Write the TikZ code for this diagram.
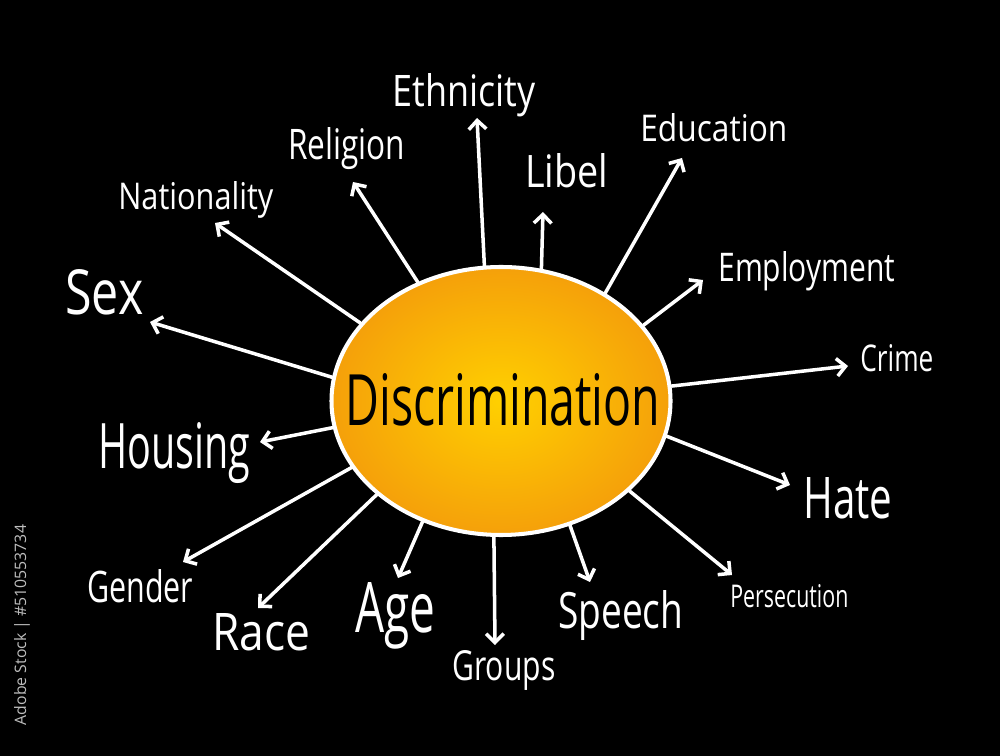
\documentclass[tikz,border=0pt]{standalone}
\usepackage{fontspec}
\setmainfont{Open Sans}
\usetikzlibrary{arrows.meta,shapes.geometric}
\newlength\px
\setlength\px{0.02cm}
% word squeezed to the width and height it has in the picture
\newcommand{\hand}[3]{\resizebox{#1\px}{#2\px}{#3}}
\definecolor{sunin}{RGB}{255,208,0}
\definecolor{sunout}{RGB}{245,160,10}
\definecolor{credit}{RGB}{190,190,190}
\tikzset{
  word/.style={white,anchor=base west,inner sep=0pt},
  arr/.style={white,line width=2pt,line cap=round,-{Straight Barb[length=5pt,width=10pt,line width=2pt]}},
}
\begin{document}
\begin{tikzpicture}[x=0.02cm,y=-0.02cm]
    \fill[black] (0,0) rectangle (1000,756);%background
    \node[ellipse,draw=white,line width=2.3pt,shading=radial,inner color=sunin,outer color=sunout,
        minimum width=339\px,minimum height=268\px,inner sep=0pt] (disc) at (501,401) {};
    \node[anchor=base west,inner sep=0pt] (title) at (345,425) {\hand{315}{52}{Discrimination}};
    % labels round the middle
    \node[word] (eth) at (392,107) {\hand{143}{33}{Ethnicity}};
    \node[word] (rel) at (288,160) {\hand{117}{32}{Religion}};
    \node[word] (nat) at (118,210) {\hand{155}{28}{Nationality}};
    \node[word] (sex) at (65,315) {\hand{78}{45}{Sex}};
    \node[word] (hou) at (98,468) {\hand{152}{46}{Housing}};
    \node[word] (gen) at (87,602) {\hand{106}{33}{Gender}};
    \node[word] (rac) at (212,650) {\hand{98}{37}{Race}};
    \node[word] (age) at (355,632) {\hand{80}{50}{Age}};
    \node[word] (gro) at (452,680) {\hand{103}{30}{Groups}};
    \node[word] (spe) at (558,628) {\hand{125}{38}{Speech}};
    \node[word] (per) at (730,607) {\hand{118}{23}{Persecution}};
    \node[word] (hat) at (803,518) {\hand{89}{41}{Hate}};
    \node[word] (cri) at (860,372) {\hand{73}{27}{Crime}};
    \node[word] (emp) at (718,282) {\hand{177}{30}{Employment}};
    \node[word] (edu) at (640,142) {\hand{147}{28}{Education}};
    \node[word] (lib) at (525,188) {\hand{83}{34}{Libel}};
    % arrow tips
    \coordinate (teth) at (477,118);
    \coordinate (tlib) at (543,212);
    \coordinate (tedu) at (682,158);
    \coordinate (temp) at (703,280);
    \coordinate (tcri) at (848,366);
    \coordinate (that) at (790,485);
    \coordinate (tper) at (732,575);
    \coordinate (tspe) at (590,582);
    \coordinate (tgro) at (495,645);
    \coordinate (tage) at (398,578);
    \coordinate (trac) at (258,608);
    \coordinate (tgen) at (183,562);
    \coordinate (thou) at (260,442);
    \coordinate (tsex) at (150,322);
    \coordinate (tnat) at (215,223);
    \coordinate (trel) at (353,182);
    \draw[arr] (disc.97.7) -- (teth);
    \draw[arr] (disc.73.6) -- (tlib);
    \draw[arr] (disc.46.8) -- (tedu);
    \draw[arr] (disc.28.6) -- (temp);
    \draw[arr] (disc.5.9) -- (tcri);
    \draw[arr] (disc.-12.6) -- (that);
    \draw[arr] (disc.-35.5) -- (tper);
    \draw[arr] (disc.-61.6) -- (tspe);
    \draw[arr] (disc.-93.8) -- (tgro);
    \draw[arr] (disc.-123.5) -- (tage);
    \draw[arr] (disc.-143.5) -- (trac);
    \draw[arr] (disc.-156.1) -- (tgen);
    \draw[arr] (disc.-171.5) -- (thou);
    \draw[arr] (disc.172.3) -- (tsex);
    \draw[arr] (disc.151.8) -- (tnat);
    \draw[arr] (disc.125.7) -- (trel);
    \node[credit,rotate=90,font=\fontsize{9}{11}\selectfont,inner sep=0pt] (cred) at (22,625) {Adobe Stock | \#510553734};
\end{tikzpicture}
\end{document}
